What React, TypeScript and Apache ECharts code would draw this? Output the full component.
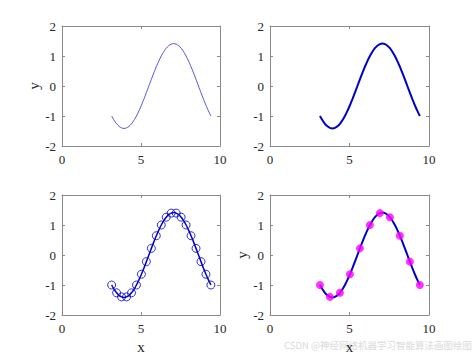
import React, { useEffect, useRef } from "react";
import * as echarts from "echarts";

// Curve points (x from π to 3π)
const xs = [3.1416, 3.2987, 3.4558, 3.6128, 3.7699, 3.927, 4.0841, 4.2412, 4.3982, 4.5553, 4.7124, 4.8695, 5.0265, 5.1836, 5.3407, 5.4978, 5.6549, 5.8119, 5.969, 6.1261, 6.2832, 6.4403, 6.5973, 6.7544, 6.9115, 7.0686, 7.2257, 7.3827, 7.5398, 7.6969, 7.854, 8.0111, 8.1681, 8.3252, 8.4823, 8.6394, 8.7965, 8.9535, 9.1106, 9.2677, 9.4248];
const ys = [-1.0, -1.144, -1.26, -1.345, -1.397, -1.414, -1.397, -1.345, -1.26, -1.144, -1.0, -0.831, -0.642, -0.437, -0.221, 0.0, 0.221, 0.437, 0.642, 0.831, 1.0, 1.144, 1.26, 1.345, 1.397, 1.414, 1.397, 1.345, 1.26, 1.144, 1.0, 0.831, 0.642, 0.437, 0.221, 0.0, -0.221, -0.437, -0.642, -0.831, -1.0];
// Open-circle marker points in the 3rd panel
const xsO = [3.1416, 3.4558, 3.7699, 4.0841, 4.3982, 4.7124, 5.0265, 5.3407, 5.6549, 5.969, 6.2832, 6.5973, 6.9115, 7.2257, 7.5398, 7.854, 8.1681, 8.4823, 8.7965, 9.1106, 9.4248];
const ysO = [-1.0, -1.26, -1.397, -1.397, -1.26, -1.0, -0.642, -0.221, 0.221, 0.642, 1.0, 1.26, 1.397, 1.397, 1.26, 1.0, 0.642, 0.221, -0.221, -0.642, -1.0];
// Magenta marker points in the 4th panel
const xsM = [3.1416, 3.7699, 4.3982, 5.0265, 5.6549, 6.2832, 6.9115, 7.5398, 8.1681, 8.7965, 9.4248];
const ysM = [-1.0, -1.397, -1.26, -0.642, 0.221, 1.0, 1.397, 1.26, 0.642, -0.221, -1.0];

const xTicks = { min: 0, max: 10, interval: 5 };
const yTicks = { min: -2, max: 2, interval: 1 };

const FONT = '"Liberation Serif", "Times New Roman", serif';
const BOX = "#8a8a8a";
const TXT = "#262626";

export default function App() {
  const ref = useRef<HTMLDivElement>(null);
  useEffect(() => {
    if (!ref.current) return;
    const chart = echarts.init(ref.current, undefined, { renderer: "svg" });
    const grids = [
      { left: 62, top: 26, width: 158, height: 120, xName: "", yName: "y" },
      { left: 270, top: 26, width: 159, height: 120, xName: "", yName: "" },
      { left: 62, top: 195, width: 158, height: 120, xName: "x", yName: "" },
      { left: 270, top: 195, width: 159, height: 120, xName: "x", yName: "y" },
    ];
    const xAxis: any[] = [];
    const yAxis: any[] = [];
    grids.forEach((g, i) => {
      const common = {
        type: "value",
        gridIndex: i,
        splitLine: { show: false },
        axisLine: { show: true, onZero: false, lineStyle: { color: BOX, width: 1 } },
        axisTick: { show: true, inside: true, length: 3, lineStyle: { color: BOX } },
      };
      xAxis.push({
        ...common,
        ...xTicks,
        position: "bottom",
        axisLabel: { show: true, margin: 7, fontFamily: FONT, fontSize: 13, color: TXT },
        name: g.xName,
        nameLocation: "middle",
        nameGap: 24,
        nameTextStyle: { fontFamily: FONT, fontSize: 15, color: TXT },
      });
      xAxis.push({ ...common, ...xTicks, position: "top", axisLabel: { show: false } });
      yAxis.push({
        ...common,
        ...yTicks,
        position: "left",
        axisLabel: { show: true, margin: 6, fontFamily: FONT, fontSize: 13, color: TXT },
        name: g.yName,
        nameLocation: "middle",
        nameGap: 21,
        nameTextStyle: { fontFamily: FONT, fontSize: 15, color: TXT },
      });
      yAxis.push({ ...common, ...yTicks, position: "right", axisLabel: { show: false } });
    });

    const pts = xs.map((x, k) => [x, ys[k]]);
    const ptsO = xsO.map((x, k) => [x, ysO[k]]);
    const ptsM = xsM.map((x, k) => [x, ysM[k]]);
    const line = (i: number, color: string, width: number) => ({
      type: "line",
      xAxisIndex: 2 * i,
      yAxisIndex: 2 * i,
      data: pts,
      smooth: 0.2,
      showSymbol: false,
      symbol: "none",
      lineStyle: { color, width },
      z: 2,
    });

    chart.setOption({
      animation: false,
      backgroundColor: "#ffffff",
      grid: grids.map((g) => ({ left: g.left, top: g.top, width: g.width, height: g.height })),
      xAxis,
      yAxis,
      series: [
        line(0, "#2a2ad0", 0.8),
        line(1, "#0000cc", 2),
        line(2, "#0000cc", 1.5),
        {
          type: "scatter",
          xAxisIndex: 4,
          yAxisIndex: 4,
          data: ptsO,
          symbol: "circle",
          symbolSize: 8,
          itemStyle: { color: "none", borderColor: "#0000cc", borderWidth: 1 },
          z: 3,
        },
        line(3, "#0000cc", 2),
        {
          type: "scatter",
          xAxisIndex: 6,
          yAxisIndex: 6,
          data: ptsM,
          symbol: "circle",
          symbolSize: 8,
          itemStyle: { color: "#ff00ff", borderColor: "#ff00ff", borderWidth: 0 },
          z: 3,
        },
      ],
      graphic: [
        {
          type: "text",
          right: 2,
          top: 340,
          z: 0,
          style: {
            text: "CSDN @神经网络机器学习智能算法画图绘图",
            fill: "#dadada",
            font: '9.5px "Noto Sans CJK SC"',
          },
        },
      ],
    });
    return () => chart.dispose();
  }, []);
  return (
    <div
      ref={ref}
      style={{ position: "fixed", left: 0, top: 0, width: 474, height: 355, background: "#fff" }}
    />
  );
}
